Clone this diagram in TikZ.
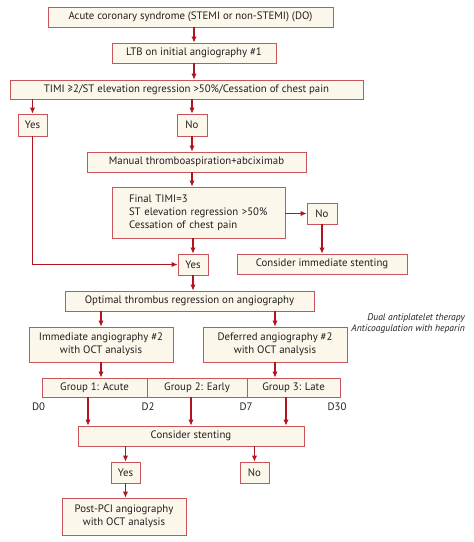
\documentclass[tikz,border=0pt]{standalone}
\usepackage{fontspec}
\setmainfont{PT Sans}
\usetikzlibrary{calc,arrows.meta}

\definecolor{boxfill}{HTML}{FBF7EA}
\definecolor{boxline}{HTML}{C9545B}
\definecolor{arrline}{HTML}{B0141E}
\definecolor{txt}{HTML}{231F20}

\tikzset{
    flowbox/.style={draw=boxline, fill=boxfill, line width=0.9pt, inner sep=0pt, text=txt, align=center},
    arr/.style={arrline, line width=1.1pt, -{Latex[length=6pt,width=5.5pt]}},
    daylbl/.style={text=txt, inner sep=0pt}
}

\begin{document}
\begin{tikzpicture}[x=1pt, y=-1pt, font=\fontsize{10.8}{12.8}\selectfont]
        \useasboundingbox (0,0) rectangle (474,542);

        % top part
        \node[flowbox, minimum width=285pt, minimum height=20pt] (syn) at (190.5,17) {Acute coronary syndrome (STEMI or non-STEMI) (DO)};
        \node[flowbox, minimum width=164pt, minimum height=20pt] (ltb) at (194,53) {LTB on initial angiography \#1};
        \node[flowbox, minimum width=353pt, minimum height=19pt] (timi) at (186.5,89.5) {TIMI \symbol{"2265}2/ST elevation regression >50\%/Cessation of chest pain};
        \node[flowbox, minimum width=29pt, minimum height=22pt] (yesA) at (32.5,125) {Yes};
        \node[flowbox, minimum width=30pt, minimum height=22pt] (noA) at (192,125) {No};
        \node[flowbox, minimum width=219pt, minimum height=20pt] (manual) at (196.5,162) {Manual thromboaspiration+abciximab};
        \node[flowbox, minimum width=173pt, minimum height=51pt, text width=139pt, align=left] (final) at (198.5,212.5) {Final TIMI=3\\ST elevation regression >50\%\\Cessation of chest pain};
        \node[flowbox, minimum width=30pt, minimum height=21pt] (noB) at (322,213.5) {No};
        \node[flowbox, minimum width=170pt, minimum height=20pt] (stent1) at (322,264) {Consider immediate stenting};
        \node[flowbox, minimum width=30pt, minimum height=21pt] (yesB) at (193,264.5) {Yes};

        % angiography #2
        \node[flowbox, minimum width=249pt, minimum height=20pt] (optimal) at (189.5,301) {Optimal thrombus regression on angiography};
        \node[flowbox, minimum width=144pt, minimum height=35pt] (immediate) at (101,344.5) {Immediate angiography \#2\\with OCT analysis};
        \node[flowbox, minimum width=144pt, minimum height=35pt] (deferred) at (275,344.5) {Deferred angiography \#2\\with OCT analysis};
        \node[text=txt, align=right, anchor=east, inner sep=0pt, font=\fontsize{9.6}{11.5}\selectfont\itshape] (therapy) at (465,323.5) {Dual antiplatelet therapy\\Anticoagulation with heparin};

        % groups
        \node[flowbox, minimum width=105pt, minimum height=19pt] (g1) at (94.5,387.5) {Group 1: Acute};
        \node[flowbox, minimum width=100pt, minimum height=19pt] (g2) at (197,387.5) {Group 2: Early};
        \node[flowbox, minimum width=93pt, minimum height=19pt] (g3) at (293.5,387.5) {Group 3: Late};
        \node[daylbl] (d0) at (38.5,407) {D0};
        \node[daylbl] (d2) at (148,407) {D2};
        \node[daylbl] (d7) at (246,407) {D7};
        \node[daylbl] (d30) at (337,407) {D30};

        % stenting
        \node[flowbox, minimum width=226pt, minimum height=20pt] (consider) at (191,436) {Consider stenting};
        \node[flowbox, minimum width=29pt, minimum height=21pt] (yesC) at (125.5,472.5) {Yes};
        \node[flowbox, minimum width=29pt, minimum height=21pt] (noC) at (254.5,472.5) {No};
        \node[flowbox, minimum width=124pt, minimum height=37pt] (postpci) at (124,516.5) {Post-PCI angiography\\with OCT analysis};

        \coordinate (cin1) at (88,0);
        \coordinate (cin2) at (191,0);
        \coordinate (cin3) at (286,0);

        % connectors
        \draw[arr] (syn.south -| ltb.north) -- (ltb.north);
        \draw[arr] (ltb.south) -- (ltb.south |- timi.north);
        \draw[arr] (yesA.north |- timi.south) -- (yesA.north);
        \draw[arr] (noA.north |- timi.south) -- (noA.north);
        \draw[arr] (noA.south) -- (noA.south |- manual.north);
        \draw[arr] (noA.south |- manual.south) -- (noA.south |- final.north);
        \draw[arr] (final.east |- noB.west) -- (noB.west);
        \draw[arr] (noB.south) -- (noB.south |- stent1.north);
        \draw[arr] (yesB.north |- final.south) -- (yesB.north);
        \draw[arr] (yesA.south) |- (yesB.west);
        \draw[arr] (yesB.south) -- (yesB.south |- optimal.north);
        \draw[arr] (immediate.north |- optimal.south) -- (immediate.north);
        \draw[arr] (deferred.north |- optimal.south) -- (deferred.north);
        \draw[arr] (immediate.south) -- (immediate.south |- g1.north);
        \draw[arr] (deferred.south) -- (deferred.south |- g3.north);
        \draw[arr] (g1.south -| cin1) -- (consider.north -| cin1);
        \draw[arr] (g2.south -| cin2) -- (consider.north -| cin2);
        \draw[arr] (g3.south -| cin3) -- (consider.north -| cin3);
        \draw[arr] (consider.south -| yesC.north) -- (yesC.north);
        \draw[arr] (consider.south -| noC.north) -- (noC.north);
        \draw[arr] (yesC.south) -- (yesC.south |- postpci.north);
\end{tikzpicture}
\end{document}
